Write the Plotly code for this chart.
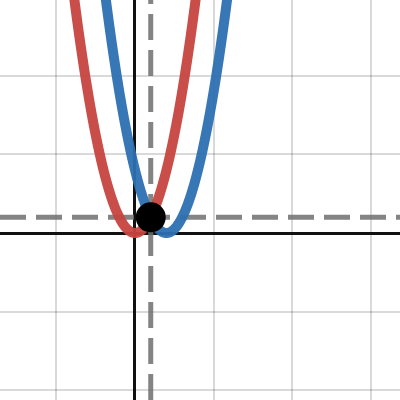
import numpy as np
import plotly.graph_objects as go

# parabolas y = a * (x - h)^2
curve_names = ["red", "blue"]
curve_a = [5, 5]
curve_h = [0.0, 0.4]
curve_colors = ["#c74440", "#2d70b3"]

# intersection point and its guide lines
point_x = [0.2]
point_y = [0.2]

x_range = [-1.715, 3.367]
y_range = [-2.122, 2.961]

fig = go.Figure()

# dashed guides through the point
guide = dict(color="rgba(110,110,110,0.85)", width=5, dash="26px,10px")
fig.add_trace(go.Scatter(
    x=[point_x[0], point_x[0]], y=y_range, mode="lines", line=guide,
    hoverinfo="skip",
))
fig.add_trace(go.Scatter(
    x=x_range, y=[point_y[0], point_y[0]], mode="lines", line=guide,
    hoverinfo="skip",
))

xs = np.linspace(-1.2, 1.6, 800)
for name, a, h, c in zip(curve_names, curve_a, curve_h, curve_colors):
    fig.add_trace(go.Scatter(
        x=xs, y=a * (xs - h) ** 2, mode="lines", name=name,
        line=dict(color=c, width=10, simplify=False), opacity=0.95,
    ))

fig.add_trace(go.Scatter(
    x=point_x, y=point_y, mode="markers",
    marker=dict(color="black", size=30),
))

axis_style = dict(
    showgrid=True, gridcolor="rgba(0,0,0,0.15)", gridwidth=1.5,
    dtick=1, tick0=0, showticklabels=False, ticks="",
    zeroline=True, zerolinecolor="#111111", zerolinewidth=2.5,
    showline=False, fixedrange=True,
)

fig.update_layout(
    width=400, height=400,
    margin=dict(l=0, r=0, t=0, b=0),
    plot_bgcolor="white", paper_bgcolor="white",
    showlegend=False,
    xaxis=dict(range=x_range, **axis_style),
    yaxis=dict(range=y_range, **axis_style),
)

fig.write_html(
    "out.html",
    config={"displayModeBar": False},
    post_script="document.body.style.margin='0px';document.body.style.overflow='hidden';",
)
